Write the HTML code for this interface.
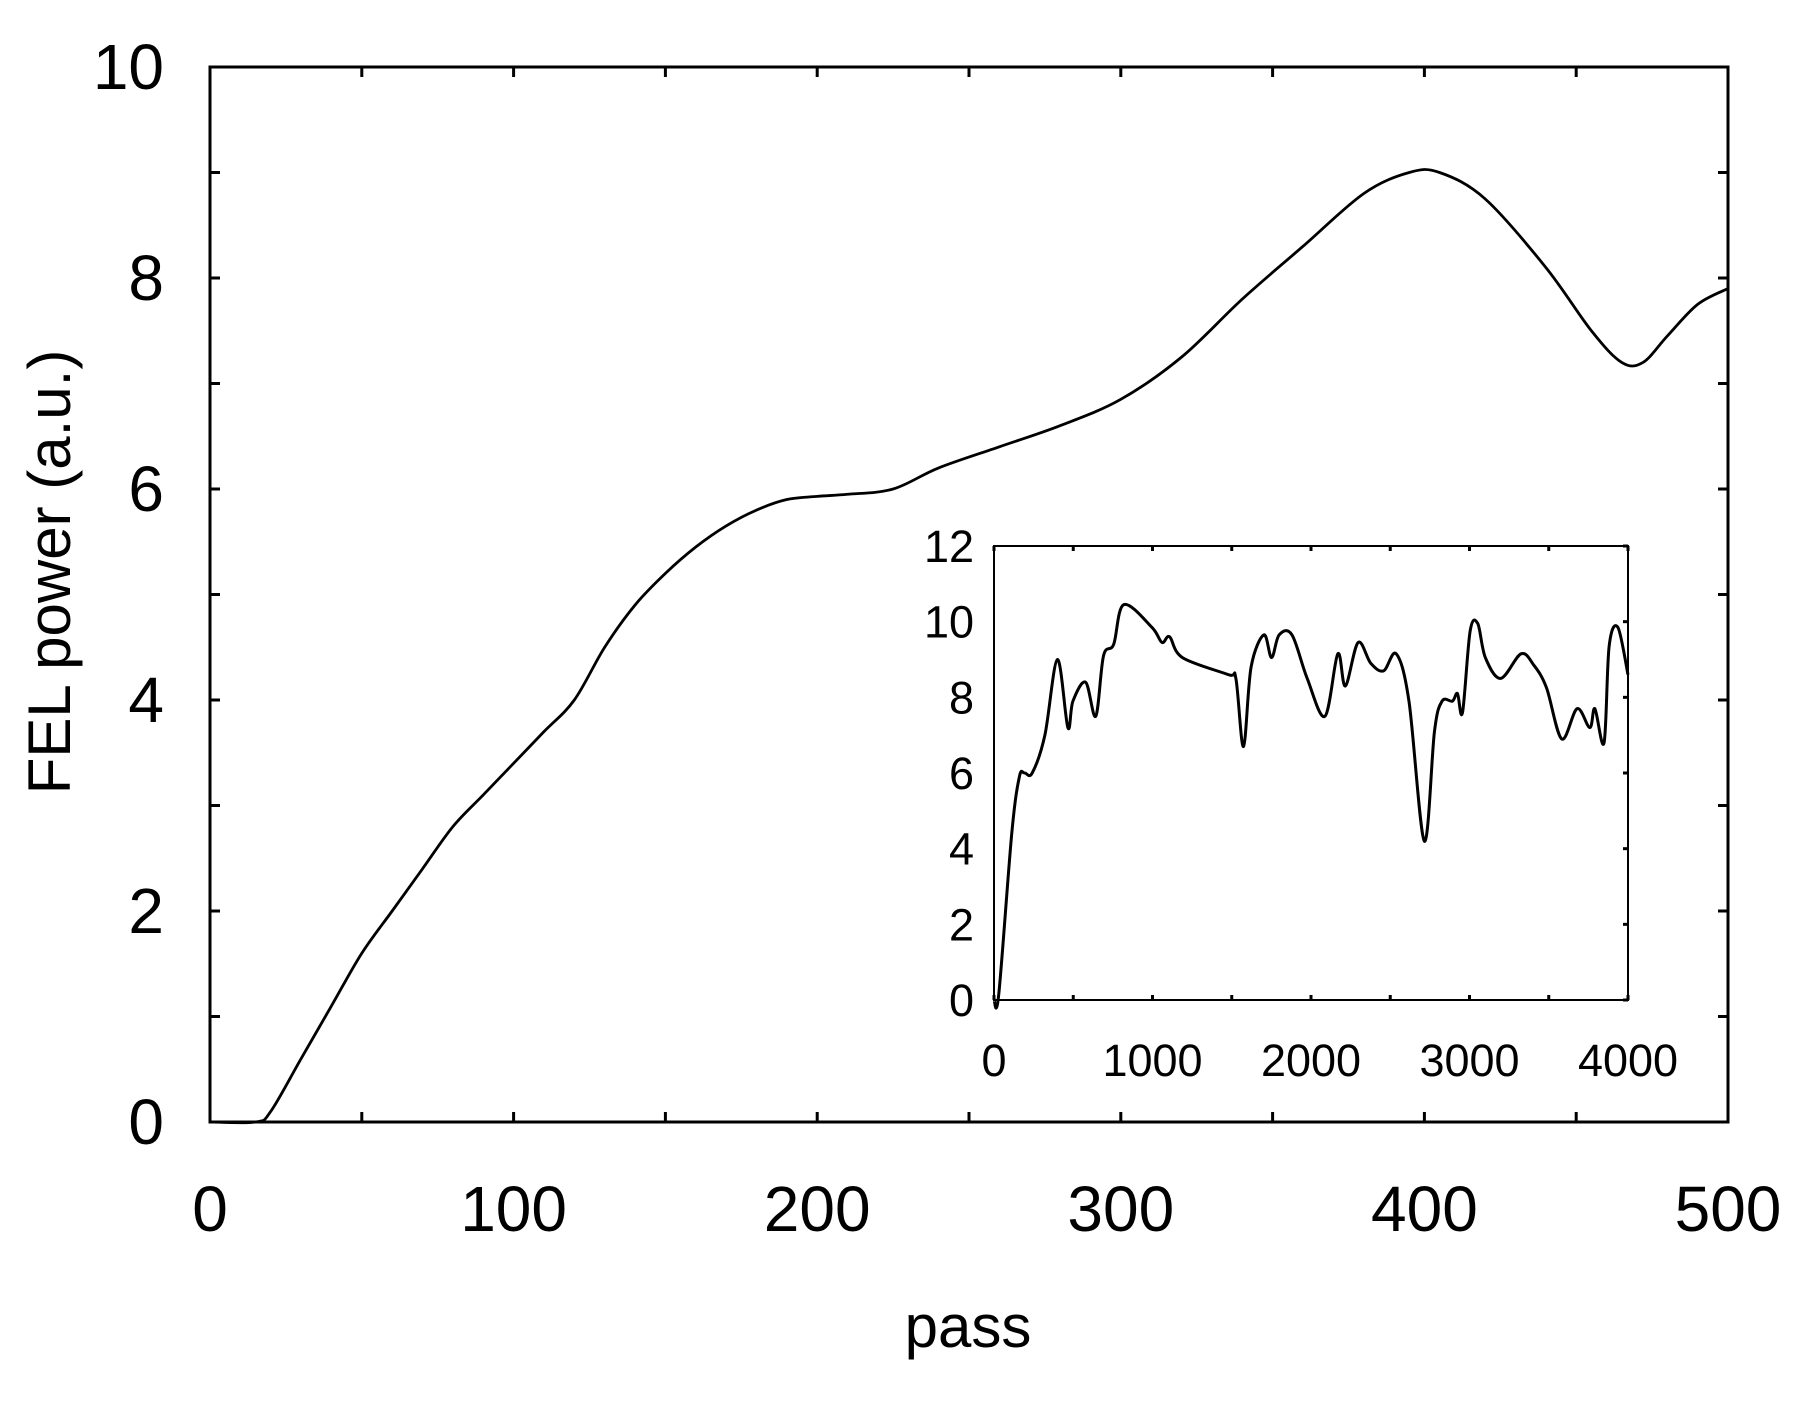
<!DOCTYPE html>
<html><head><meta charset="utf-8"><style>
html,body{margin:0;padding:0;background:#fff;}
svg{display:block;font-family:"Liberation Sans",Arial,sans-serif;}
</style></head><body>
<svg id="chart" width="1810" height="1401" viewBox="0 0 1810 1401" xmlns="http://www.w3.org/2000/svg"></svg>
<script>
const mainPass=[0,15,20,30,40,50,60,70,80,90,100,110,120,130,140,150,160,170,180,190,200,210,225,240,260,280,300,320,340,360,380,395,405,420,440,455,465,472,480,490,500];
const mainPower=[0,0,0.1,0.6,1.1,1.6,2.0,2.4,2.8,3.1,3.4,3.7,4.0,4.5,4.9,5.2,5.45,5.65,5.8,5.9,5.93,5.95,6.0,6.2,6.4,6.6,6.85,7.25,7.8,8.3,8.8,9.0,9.0,8.75,8.1,7.5,7.2,7.2,7.45,7.75,7.9];
const mainXTicks=[0,100,200,300,400,500];
const mainYTicks=[0,2,4,6,8,10];
const insetPass=[0,30,112,160,193,241,321,400,466,498,578,642,691,755,819,996,1060,1108,1189,1478,1526,1574,1622,1703,1751,1799,1880,1976,2088,2169,2217,2297,2377,2458,2538,2618,2715,2779,2827,2892,2924,2956,3004,3052,3100,3197,3325,3406,3486,3582,3679,3759,3791,3849,3881,3936,4000];
const insetPower=[0,0.15,4.4,5.9,6.0,6.0,7.0,9.0,7.2,7.9,8.4,7.5,9.1,9.4,10.45,9.85,9.45,9.6,9.05,8.6,8.5,6.7,8.8,9.65,9.05,9.65,9.65,8.5,7.5,9.15,8.3,9.45,8.9,8.7,9.15,7.9,4.2,7.1,7.9,7.9,8.1,7.6,9.75,9.95,9.05,8.5,9.15,8.85,8.25,6.9,7.7,7.2,7.7,6.8,9.35,9.85,8.6];
const insetXTicks=[0,1000,2000,3000,4000];
const insetYTicks=[0,2,4,6,8,10,12];

const NS="http://www.w3.org/2000/svg";
const svg=document.getElementById('chart');
function mk(tag,attrs,parent){const e=document.createElementNS(NS,tag);for(const k in attrs)e.setAttribute(k,attrs[k]);(parent||svg).appendChild(e);return e;}
function smoothPath(pts){
  let d='M'+pts[0][0]+','+pts[0][1];
  for(let i=0;i<pts.length-1;i++){
    const p0=pts[Math.max(i-1,0)],p1=pts[i],p2=pts[i+1],p3=pts[Math.min(i+2,pts.length-1)];
    const c1=[p1[0]+(p2[0]-p0[0])/6,p1[1]+(p2[1]-p0[1])/6];
    const c2=[p2[0]-(p3[0]-p1[0])/6,p2[1]-(p3[1]-p1[1])/6];
    d+=' C'+c1[0]+','+c1[1]+' '+c2[0]+','+c2[1]+' '+p2[0]+','+p2[1];
  }
  return d;
}

const M={l:210,r:1728,t:67,b:1122};
const mx=v=>M.l+(v/500)*(M.r-M.l);
const my=v=>M.b-(v/10)*(M.b-M.t);
let e=mk('rect',{x:M.l,y:M.t,width:M.r-M.l,height:M.b-M.t,fill:'none',stroke:'#000','stroke-width':3});


for(let v=0;v<=500;v+=50){
  e=mk('line',{x1:mx(v),x2:mx(v),y1:M.b,y2:M.b-10,stroke:'#000','stroke-width':3});
  
  
  e=mk('line',{x1:mx(v),x2:mx(v),y1:M.t,y2:M.t+10,stroke:'#000','stroke-width':3});
  
  
}
for(let v=0;v<=10;v+=1){
  e=mk('line',{x1:M.l,x2:M.l+10,y1:my(v),y2:my(v),stroke:'#000','stroke-width':3});
  
  
  e=mk('line',{x1:M.r,x2:M.r-10,y1:my(v),y2:my(v),stroke:'#000','stroke-width':3});
  
  
}
mainXTicks.forEach(v=>{
  e=mk('text',{x:mx(v),y:1231,'font-size':64,'text-anchor':'middle',fill:'#000'});
  e.textContent=v;
  
  
});
mainYTicks.forEach(v=>{
  e=mk('text',{x:164,y:my(v)+22,'font-size':64,'text-anchor':'end',fill:'#000'});
  e.textContent=v;
  
  
});
e=mk('text',{x:968,y:1347,'font-size':60,'text-anchor':'middle',fill:'#000'});
e.textContent='pass';


e=mk('text',{x:0,y:0,'font-size':60,'text-anchor':'middle',fill:'#000',transform:'translate(70,572) rotate(-90)'});
e.textContent='FEL power (a.u.)';


e=mk('path',{d:smoothPath(mainPass.map((p,i)=>[mx(p),my(mainPower[i])])),fill:'none',stroke:'#000','stroke-width':2.8,'stroke-linejoin':'round'});



const I={l:994,r:1628,t:546,b:1000};
const ix=v=>I.l+(v/4000)*(I.r-I.l);
const iy=v=>I.b-(v/12)*(I.b-I.t);
e=mk('rect',{x:I.l,y:I.t,width:I.r-I.l,height:I.b-I.t,fill:'#fff',stroke:'#000','stroke-width':2});


for(let v=0;v<=4000;v+=500){
  e=mk('line',{x1:ix(v),x2:ix(v),y1:I.b,y2:I.b-5,stroke:'#000','stroke-width':3});
  
  
  e=mk('line',{x1:ix(v),x2:ix(v),y1:I.t,y2:I.t+5,stroke:'#000','stroke-width':3});
  
  
}
insetYTicks.forEach(v=>{
  e=mk('line',{x1:I.r,x2:I.r-5,y1:iy(v),y2:iy(v),stroke:'#000','stroke-width':3});
  
  
  e=mk('text',{x:974,y:iy(v)+16,'font-size':45,'text-anchor':'end',fill:'#000'});
  e.textContent=v;
  
  
});
insetXTicks.forEach(v=>{
  e=mk('text',{x:ix(v),y:1076,'font-size':45,'text-anchor':'middle',fill:'#000'});
  e.textContent=v;
  
  
});
e=mk('path',{d:smoothPath(insetPass.map((p,i)=>[ix(p),iy(insetPower[i])])),fill:'none',stroke:'#000','stroke-width':3,'stroke-linejoin':'round'});


</script>
</body></html>
